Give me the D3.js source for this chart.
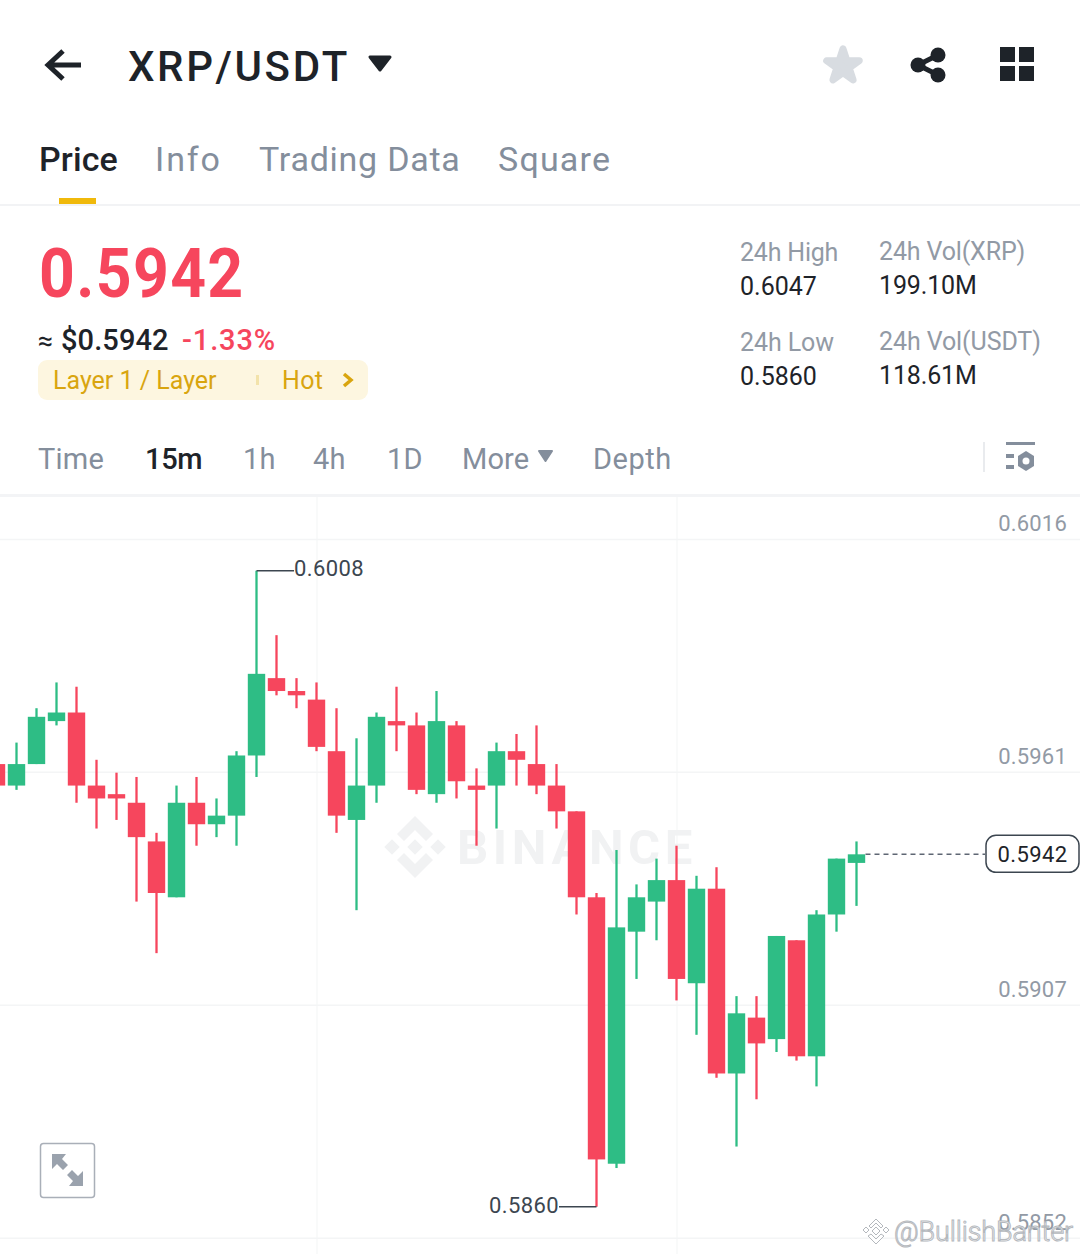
<!DOCTYPE html>
<html lang="en">
<head>
<meta charset="UTF-8">
<title>XRP/USDT</title>
<script src="https://d3js.org/d3.v7.min.js"></script>
<style>
  html, body { margin: 0; padding: 0; background: #fff; }
  svg { display: block; font-family: Roboto, sans-serif; }
</style>
</head>
<body>
<svg id="chart" width="1080" height="1254" viewBox="0 0 1080 1254"></svg>
<script>
// candles, oldest first
const opens = [0.5963,0.5958,0.5963,0.5973,0.5975,0.5958,0.5956,0.5954,0.5945,0.5932,0.5954,0.5949,0.5951,0.5965,0.5983,0.5980,0.5978,0.5966,0.5950,0.5958,0.5973,0.5972,0.5956,0.5972,0.5958,0.5958,0.5966,0.5963,0.5958,0.5952,0.5932,0.5870,0.5924,0.5931,0.5936,0.5912,0.5934,0.5891,0.5904,0.5899,0.5922,0.5895,0.5928,0.5940];
const highs = [0.5963,0.5968,0.5976,0.5982,0.5981,0.5964,0.5961,0.5960,0.5947,0.5958,0.5960,0.5955,0.5966,0.6008,0.5993,0.5983,0.5982,0.5976,0.5969,0.5975,0.5981,0.5975,0.5980,0.5973,0.5962,0.5968,0.5970,0.5972,0.5963,0.5952,0.5933,0.5943,0.5935,0.5941,0.5944,0.5937,0.5939,0.5909,0.5909,0.5923,0.5922,0.5929,0.5941,0.5945];
const lows = [0.5958,0.5957,0.5963,0.5972,0.5954,0.5948,0.5950,0.5931,0.5919,0.5932,0.5944,0.5946,0.5944,0.5960,0.5979,0.5976,0.5966,0.5947,0.5929,0.5954,0.5966,0.5956,0.5954,0.5955,0.5944,0.5948,0.5958,0.5956,0.5948,0.5928,0.5860,0.5869,0.5913,0.5922,0.5908,0.5900,0.5890,0.5874,0.5885,0.5896,0.5894,0.5888,0.5924,0.5930];
const closes = [0.5958,0.5963,0.5974,0.5975,0.5958,0.5955,0.5955,0.5946,0.5933,0.5954,0.5949,0.5951,0.5965,0.5984,0.5980,0.5979,0.5967,0.5951,0.5958,0.5974,0.5972,0.5957,0.5973,0.5959,0.5957,0.5966,0.5964,0.5958,0.5952,0.5932,0.5871,0.5925,0.5932,0.5936,0.5913,0.5934,0.5891,0.5905,0.5898,0.5923,0.5895,0.5928,0.5941,0.5942];

const tickPrices = [0.60154,0.59612,0.59070,0.58528];
const tickLabels = ["0.6016","0.5961","0.5907","0.5852"];
const lastPrice = 0.5942;
const highPrice = 0.6008;
const lowPrice = 0.5860;

const tabs = ["Price","Info","Trading Data","Square"];
const intervals = ["Time","15m","1h","4h","1D","More","Depth"];

const RED = "#f6465d", GREEN = "#2ebd85", DARK = "#1e2329", GREY = "#848e9c", AXIS = "#929aa5", GOLD = "#d9a50f";

const svg = d3.select("#chart");

const x = d3.scaleLinear().domain([0, closes.length - 1]).range([-3.5, 856.5]);
const y = d3.scaleLinear().domain([highPrice, lowPrice]).range([570.7, 1206.7]);

function label(t, px, py, size, color, opt = {}) {
  return svg.append("text")
    .attr("transform", `translate(${px},${py}) scale(${opt.sx || 1},1)`)
    .attr("font-size", size).attr("fill", color)
    .attr("font-weight", opt.weight || 400)
    .attr("text-anchor", opt.anchor || "start")
    .attr("letter-spacing", opt.ls || 0)
    .text(t);
}

// header
svg.append("path").attr("d", "M81 65H49M63 51L48 65L63 79").attr("fill", "none")
  .attr("stroke", DARK).attr("stroke-width", 5);
label("XRP/USDT", 128, 81, 42, DARK, { weight: 500, ls: 2.6 });
svg.append("path").attr("d", "M370 57H390L380 70Z").attr("fill", DARK)
  .attr("stroke", DARK).attr("stroke-width", 3).attr("stroke-linejoin", "round");

svg.append("path").attr("transform", "translate(843,66)")
  .attr("d", d3.symbol(d3.symbolStar, 330)()).attr("fill", "#d8dce1")
  .attr("stroke", "#d8dce1").attr("stroke-width", 7).attr("stroke-linejoin", "round");

svg.append("path").attr("d", "M938 55L918 65L938 75").attr("fill", "none").attr("stroke", DARK).attr("stroke-width", 5);
[[938, 55], [918, 65], [938, 75]].forEach(c => svg.append("circle").attr("cx", c[0]).attr("cy", c[1]).attr("r", 7.5).attr("fill", DARK));

[[1000, 47], [1019, 47], [1000, 66], [1019, 66]].forEach(c => svg.append("rect")
  .attr("x", c[0]).attr("y", c[1]).attr("width", 15).attr("height", 15).attr("fill", DARK));

// tabs
const tabX = [39, 155, 259, 498];
const tabLs = [0.1, 1.9, 0.75, 1.2];
tabs.forEach((t, i) => label(t, tabX[i], 171, 34, i === 0 ? DARK : GREY, { weight: i === 0 ? 500 : 400, ls: tabLs[i] }));
svg.append("rect").attr("x", 59).attr("y", 198).attr("width", 37).attr("height", 6).attr("fill", "#f0b90b");
svg.append("rect").attr("x", 0).attr("y", 204).attr("width", 1080).attr("height", 2).attr("fill", "#f2f3f5");

// price block
label("0.5942", 39, 297, 68, RED, { weight: 700, ls: 1.45, sx: 0.92 });
label("≈", 38, 350, 27, DARK);
label("$0.5942", 61, 350, 29, DARK, { weight: 500, ls: 0.1 });
label("-1.33%", 182, 350, 29, RED, { weight: 500, ls: 0.9 });

svg.append("rect").attr("x", 38).attr("y", 360).attr("width", 330).attr("height", 40).attr("rx", 9).attr("fill", "#fdf6e0");
label("Layer 1 / Layer", 53, 389, 25, GOLD);
svg.append("rect").attr("x", 256).attr("y", 375).attr("width", 3).attr("height", 10).attr("fill", "#f3e3ab");
label("Hot", 282, 389, 25, GOLD, { ls: 0.3 });
svg.append("path").attr("d", "M344 374L351 380L344 386").attr("fill", "none").attr("stroke", GOLD).attr("stroke-width", 3.5);

label("24h High", 740, 261, 25, AXIS, { ls: -0.2 });
label("0.6047", 740, 295, 25, DARK);
label("24h Vol(XRP)", 879, 260, 25, AXIS, { ls: -0.15 });
label("199.10M", 879, 294, 25, DARK, { ls: -0.15 });
label("24h Low", 740, 351, 25, AXIS, { ls: -0.1 });
label("0.5860", 740, 385, 25, DARK);
label("24h Vol(USDT)", 879, 350, 25, AXIS, { ls: -0.1 });
label("118.61M", 879, 384, 25, DARK, { ls: -0.15 });

// interval row
const intervalX = [38, 145, 243, 313, 387, 462, 593];
const intervalLs = [0.2, -0.3, 0.1, 0.1, 0.1, 0.1, 0.5];
intervals.forEach((t, i) => label(t, intervalX[i], 469, 29, i === 1 ? DARK : GREY, { weight: i === 1 ? 500 : 400, ls: intervalLs[i] }));
svg.append("path").attr("d", "M539 451H552L545.5 461Z").attr("fill", GREY).attr("stroke", GREY).attr("stroke-width", 2).attr("stroke-linejoin", "round");
svg.append("rect").attr("x", 983).attr("y", 442).attr("width", 2).attr("height", 30).attr("fill", "#e9ebee");
svg.append("rect").attr("x", 1006).attr("y", 442).attr("width", 29).attr("height", 3).attr("fill", GREY);
svg.append("rect").attr("x", 1006).attr("y", 454).attr("width", 8).attr("height", 4).attr("fill", GREY);
svg.append("rect").attr("x", 1006).attr("y", 465).attr("width", 8).attr("height", 4).attr("fill", GREY);
svg.append("path").attr("d", "M1026 451L1034 456V466L1026 471L1018 466V456Z").attr("fill", GREY);
svg.append("circle").attr("cx", 1026).attr("cy", 461).attr("r", 3.5).attr("fill", "#fff");
svg.append("rect").attr("x", 0).attr("y", 494).attr("width", 1080).attr("height", 3).attr("fill", "#f3f4f6");

// grid
[317, 677].forEach(gx => svg.append("line").attr("x1", gx).attr("x2", gx).attr("y1", 497).attr("y2", 1254)
  .attr("stroke", "#f7f8f9").attr("stroke-width", 1.5));

const yAxis = d3.axisRight(y).tickValues(tickPrices).tickSize(1080)
  .tickFormat((d, i) => tickLabels[i]);
const axisG = svg.append("g").call(yAxis);
axisG.select(".domain").remove();
axisG.selectAll(".tick line").attr("stroke", "#f4f5f6").attr("stroke-width", 1.5);
axisG.selectAll(".tick text").attr("x", 1067).attr("dy", -8).attr("text-anchor", "end")
  .attr("font-size", 22).attr("font-family", "Roboto, sans-serif").attr("fill", AXIS).attr("letter-spacing", 0.2);

// Binance watermark
const mark = svg.append("g").attr("fill", "#f1f2f3");
mark.append("path").attr("transform", "translate(415,847)")
  .attr("d", "M0 -31L18 -13L11 -6L0 -17L-11 -6L-18 -13ZM0 31L18 13L11 6L0 17L-11 6L-18 13Z");
[[-23, 0], [23, 0], [0, 0]].forEach(c => mark.append("rect")
  .attr("x", -5.5).attr("y", -5.5).attr("width", 11).attr("height", 11)
  .attr("transform", `translate(${415 + c[0]},${847 + c[1]}) rotate(45)`));
mark.append("text").attr("x", 457).attr("y", 864).attr("font-size", 49).attr("font-weight", 700)
  .attr("letter-spacing", 4.6).text("BINANCE");

// candles
const candles = svg.append("g").selectAll("g").data(closes).join("g")
  .attr("fill", (d, i) => d >= opens[i] ? GREEN : RED);
candles.append("rect")
  .attr("x", (d, i) => x(i) - 1.15).attr("width", 2.3)
  .attr("y", (d, i) => y(highs[i]))
  .attr("height", (d, i) => y(lows[i]) - y(highs[i]));
candles.append("rect")
  .attr("x", (d, i) => x(i) - 8.7).attr("width", 17.4)
  .attr("y", (d, i) => y(Math.max(d, opens[i])))
  .attr("height", (d, i) => Math.max(1, Math.abs(y(d) - y(opens[i]))));

// high and low callouts
const iHigh = highs.indexOf(highPrice), iLow = lows.indexOf(lowPrice);
svg.append("path").attr("d", `M${x(iHigh)} ${y(highPrice)}H294`).attr("stroke", "#3c4650").attr("stroke-width", 1.5);
label("0.6008", 294, y(highPrice) + 5.5, 22, "#3c4650", { ls: 0.4 });
svg.append("path").attr("d", `M${x(iLow)} ${y(lowPrice)}H559`).attr("stroke", "#3c4650").attr("stroke-width", 1.5);
label("0.5860", 559, y(lowPrice) + 6.5, 22, "#3c4650", { anchor: "end", ls: 0.4 });

// last price
svg.append("line").attr("x1", x(closes.length - 1) + 9).attr("x2", 985)
  .attr("y1", y(lastPrice)).attr("y2", y(lastPrice))
  .attr("stroke", "#5e6673").attr("stroke-width", 1.5).attr("stroke-dasharray", "5 4");
svg.append("rect").attr("x", 986).attr("y", y(lastPrice) - 19).attr("width", 93).attr("height", 37)
  .attr("rx", 10).attr("fill", "#fff").attr("stroke", "#3c4650").attr("stroke-width", 1.5);
label(d3.format(".4f")(lastPrice), 1032.5, y(lastPrice) + 8, 22, DARK, { anchor: "middle", ls: 0.4 });

// expand button
svg.append("rect").attr("x", 40.5).attr("y", 1143.5).attr("width", 54).attr("height", 54).attr("rx", 3)
  .attr("fill", "#fff").attr("stroke", "#a9afb8").attr("stroke-width", 1.5);
svg.append("path").attr("d", "M52 1154H66L62 1159L68 1165L63 1170L57 1164L52 1169ZM83 1186H69L73 1181L67 1175L72 1170L78 1176L83 1171Z")
  .attr("fill", "#9aa2ad");

// repost watermark
const tag = svg.append("g").attr("fill", "#fff").attr("stroke", "#b4b8bd").attr("stroke-width", 1);
tag.append("path").attr("d", "M876 1227L880 1231L876 1235L872 1231ZM866 1227L869 1230L866 1233L863 1230ZM886 1227L889 1230L886 1233L883 1230ZM868 1236L876 1244L884 1236L881 1234L876 1239L871 1234ZM869 1226L876 1219L883 1226L881 1228L876 1223L871 1228Z");
tag.append("text").attr("x", 894).attr("y", 1241).attr("font-size", 27).attr("font-weight", 300).attr("letter-spacing", -0.1).text("@BullishBanter");
</script>
</body>
</html>
